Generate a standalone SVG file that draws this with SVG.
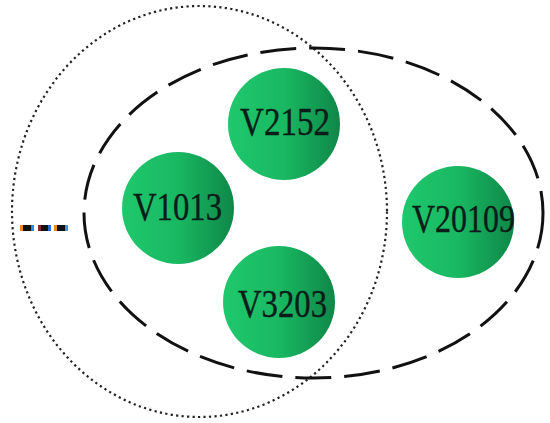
<svg xmlns="http://www.w3.org/2000/svg" width="550" height="423" viewBox="0 0 550 423">
  <defs>
    <linearGradient id="g" x1="0" y1="0" x2="1" y2="0">
      <stop offset="0" stop-color="#1fc86c"/>
      <stop offset="0.5" stop-color="#19b862"/>
      <stop offset="1" stop-color="#0f8748"/>
    </linearGradient>
  </defs>
  <style>
    .node circle { fill: url(#g); }
    .node text { font-family: "Liberation Serif", "Times New Roman", serif; font-size: 40px; fill: #0b1d18; stroke: #0b1d18; stroke-width: 0.4; }
    .dotted { fill: none; stroke: #222; stroke-width: 2.2; stroke-dasharray: 2.2 3.3; }
    .dashed { fill: none; stroke: #111; stroke-width: 3; stroke-dasharray: 36 13; }
  </style>
  <g id="connectors">
    <ellipse class="dotted" cx="199.5" cy="211.5" rx="187.5" ry="205.5"/>
    <ellipse class="dashed" cx="313.5" cy="213" rx="229.5" ry="165"/>
    <g id="stub">
      <rect x="20" y="225" width="3" height="6" fill="#e88a2a"/>
      <rect x="23" y="225" width="8" height="6" fill="#111"/>
      <rect x="31" y="225" width="3" height="6" fill="#2a8ae8"/>
      <rect x="38" y="225" width="3" height="6" fill="#8a2a2a"/>
      <rect x="41" y="225" width="7" height="6" fill="#111"/>
      <rect x="48" y="225" width="3" height="6" fill="#2a6ad8"/>
      <rect x="54" y="225" width="3" height="6" fill="#e88a2a"/>
      <rect x="57" y="225" width="8" height="6" fill="#111"/>
      <rect x="65" y="225" width="3" height="6" fill="#3a9ae8"/>
    </g>
  </g>
  <g id="V2152" class="node">
    <circle cx="284" cy="124" r="56"/>
    <text x="240" y="135" textLength="90" lengthAdjust="spacingAndGlyphs">V2152</text>
  </g>
  <g id="V1013" class="node">
    <circle cx="178" cy="208" r="56"/>
    <text x="133" y="220" textLength="89" lengthAdjust="spacingAndGlyphs">V1013</text>
  </g>
  <g id="V3203" class="node">
    <circle cx="279" cy="302" r="56"/>
    <text x="238" y="317" textLength="89" lengthAdjust="spacingAndGlyphs">V3203</text>
  </g>
  <g id="V20109" class="node">
    <circle cx="458" cy="222" r="56"/>
    <text x="412" y="232" textLength="103" lengthAdjust="spacingAndGlyphs">V20109</text>
  </g>
</svg>
